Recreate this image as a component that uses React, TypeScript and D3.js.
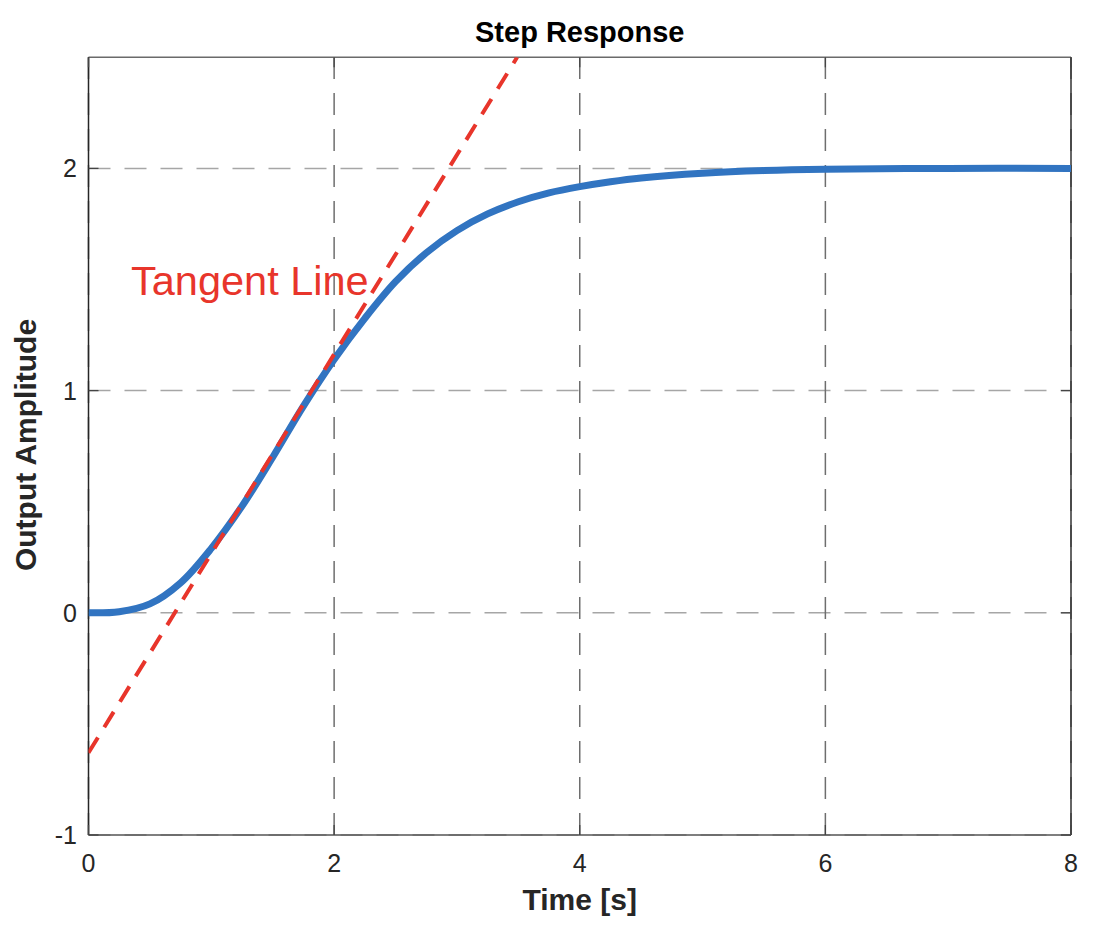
import React from "react";
import * as d3 from "d3";

// Step response samples (time [s], amplitude)
const timeValues = [0, 0.25, 0.5, 0.75, 1.0, 1.25, 1.5, 1.75, 2.0, 2.25, 2.5, 2.75, 3.0, 3.25, 3.5, 3.75, 4.0, 4.25, 4.5, 5.0, 5.5, 6.0, 7.0, 8.0];
const responseValues = [0, 0.005, 0.04, 0.135, 0.29, 0.48, 0.7, 0.93, 1.14, 1.325, 1.49, 1.62, 1.72, 1.795, 1.85, 1.89, 1.918, 1.94, 1.957, 1.978, 1.99, 1.996, 2.0, 2.0];

// Tangent line endpoints
const tangentT = [0, 3.49];
const tangentY = [-0.63, 2.5];

const xTicks = [0, 2, 4, 6, 8];
const yTicks = [-1, 0, 1, 2];

const titleText = "Step Response";
const xLabelText = "Time [s]";
const yLabelText = "Output Amplitude";
const annotationText = "Tangent Line";

const W = 1108;
const H = 926;
const left = 88.5;
const right = 1071;
const top = 57.3;
const bottom = 835;

export default function App() {
  const x = d3.scaleLinear().domain([0, 8]).range([left, right]);
  const y = d3.scaleLinear().domain([-1, 2.5]).range([bottom, top]);

  const resp = timeValues.map((t, i) => [t, responseValues[i]] as [number, number]);
  const tang = tangentT.map((t, i) => [t, tangentY[i]] as [number, number]);

  const line = d3
    .line<[number, number]>()
    .x((d) => x(d[0]))
    .y((d) => y(d[1]))
    .curve(d3.curveCatmullRom.alpha(0.5));
  const straight = d3
    .line<[number, number]>()
    .x((d) => x(d[0]))
    .y((d) => y(d[1]));

  const font = "'Liberation Sans', Arial, Helvetica, sans-serif";

  return (
    <svg
      width={W}
      height={H}
      style={{ position: "absolute", left: 0, top: 0, background: "#fff" }}
      fontFamily={font}
    >
      <defs>
        <clipPath id="plotClip">
          <rect x={left} y={top} width={right - left} height={bottom - top} />
        </clipPath>
      </defs>
      <rect x={0} y={0} width={W} height={H} fill="#fff" />

      {/* grid */}
      {yTicks.map((v) => (
        <line
          key={"gy" + v}
          x1={left}
          x2={right}
          y1={y(v)}
          y2={y(v)}
          stroke="#a6a6a6"
          strokeWidth={1.5}
          strokeDasharray="22,14"
        />
      ))}
      {xTicks.map((v) => (
        <line
          key={"gx" + v}
          x1={x(v)}
          x2={x(v)}
          y1={bottom}
          y2={top}
          stroke="#6e6e6e"
          strokeWidth={1.5}
          strokeDasharray="22,14"
        />
      ))}

      {/* frame */}
      <line x1={left} x2={right} y1={top} y2={top} stroke="#6a6a6a" strokeWidth={1.5} />
      <line x1={right} x2={right} y1={top} y2={bottom} stroke="#333" strokeWidth={1.5} />
      <line x1={left} x2={right} y1={bottom} y2={bottom} stroke="#555" strokeWidth={1.5} />
      <line x1={left} x2={left} y1={top} y2={bottom} stroke="#262626" strokeWidth={1.5} />

      {/* ticks */}
      {xTicks.map((v) => (
        <g key={"tx" + v}>
          <line x1={x(v)} x2={x(v)} y1={bottom} y2={bottom - 10} stroke="#444" strokeWidth={1.3} />
          <line x1={x(v)} x2={x(v)} y1={top} y2={top + 10} stroke="#444" strokeWidth={1.3} />
        </g>
      ))}
      {yTicks.map((v) => (
        <g key={"ty" + v}>
          <line x1={left} x2={left + 10} y1={y(v)} y2={y(v)} stroke="#444" strokeWidth={1.3} />
          <line x1={right} x2={right - 10} y1={y(v)} y2={y(v)} stroke="#444" strokeWidth={1.3} />
        </g>
      ))}

      {/* data */}
      <g clipPath="url(#plotClip)">
        <path d={line(resp) || ""} fill="none" stroke="#3174c1" strokeWidth={7} strokeLinejoin="round" />
        <path
          d={straight(tang) || ""}
          fill="none"
          stroke="#e8352b"
          strokeWidth={4}
          strokeDasharray="18,12"
        />
      </g>

      {/* tick labels */}
      {xTicks.map((v) => (
        <text key={"lx" + v} x={x(v)} y={872} textAnchor="middle" fontSize={25} fill="#262626">
          {v}
        </text>
      ))}
      {yTicks.map((v) => (
        <text key={"ly" + v} x={77} y={y(v) + 9} textAnchor="end" fontSize={25} fill="#262626">
          {v}
        </text>
      ))}

      {/* annotation */}
      <text x={131} y={295} fontSize={41.5} fill="#e8352b">
        {annotationText}
      </text>

      {/* titles */}
      <text x={(left + right) / 2} y={42} textAnchor="middle" fontSize={29} fontWeight="bold" fill="#000">
        {titleText}
      </text>
      <text x={(left + right) / 2} y={910} textAnchor="middle" fontSize={30} fontWeight="bold" fill="#262626">
        {xLabelText}
      </text>
      <text
        transform={`translate(36,${445}) rotate(-90)`}
        textAnchor="middle"
        fontSize={30}
        fontWeight="bold"
        fill="#262626"
      >
        {yLabelText}
      </text>
    </svg>
  );
}
